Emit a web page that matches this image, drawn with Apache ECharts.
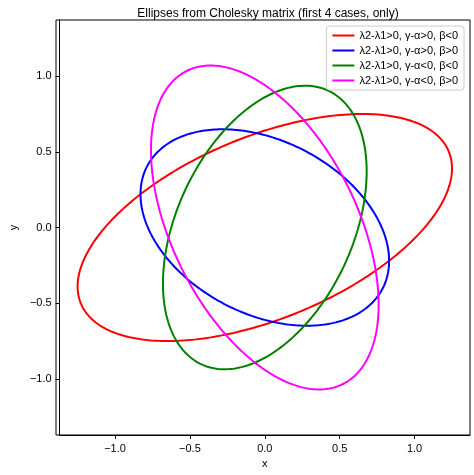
<!DOCTYPE html>
<html><head><meta charset="utf-8">
<script src="https://cdn.jsdelivr.net/npm/echarts@6/dist/echarts.min.js"></script>
<style>html,body{margin:0;padding:0;background:#fff}#c{width:474px;height:475px}</style>
</head><body><div id="c"></div>
<script>
// Cholesky factors L = [[l11,0],[l21,l22]] for each case
const names = ['λ2-λ1>0, γ-α>0, β<0','λ2-λ1>0, γ-α>0, β>0','λ2-λ1>0, γ-α<0, β<0','λ2-λ1>0, γ-α<0, β>0'];
const colors = ['#ff0000','#0000ff','#008000','#ff00ff'];
const l11 = [1.25, 0.83, 0.68, 0.76];
const l21 = [0.39, -0.22, 0.37, -0.51];
const l22 = [0.64, 0.61, 0.86, 0.94];
const tickVals = [-1.0, -0.5, 0.0, 0.5, 1.0];
const nPts = 300;
function ellipse(i){
  const pts=[];
  for(let k=0;k<=nPts;k++){const t=2*Math.PI*k/nPts;
    pts.push([l11[i]*Math.cos(t), l21[i]*Math.cos(t)+l22[i]*Math.sin(t)]);}
  return pts;
}
const chart = echarts.init(document.getElementById('c'));
function ax(name,gap){return {type:'value',min:-1.37,max:1.37,name:name,nameGap:gap,
  axisLine:{onZero:false,show:true,lineStyle:{color:'#000'}},
  axisTick:{show:true,length:4,customValues:tickVals,lineStyle:{color:'#000'}},
  splitLine:{show:false},nameLocation:'middle',nameTextStyle:{color:'#000',fontSize:11},
  axisLabel:{color:'#000',fontSize:11,customValues:tickVals,
    formatter:v=>v.toFixed(1).replace('-','−')}};}
chart.setOption({
  animation:false,
  title:{text:'Ellipses from Cholesky matrix (first 4 cases, only)',left:263,textAlign:'center',top:3,textStyle:{fontSize:12,fontWeight:'normal',color:'#000'}},
  grid:{left:56,right:4,top:20,bottom:40},
  legend:{top:26,right:10,orient:'vertical',itemWidth:22,itemHeight:2,itemGap:4,
    backgroundColor:'#fff',borderColor:'#ccc',borderWidth:1,borderRadius:3,padding:[4,6],
    textStyle:{fontSize:11,color:'#000'},icon:'rect',data:names},
  xAxis:ax('x',22),
  yAxis:ax('y',38),
  series:names.map((n,i)=>({name:n,type:'line',data:ellipse(i),showSymbol:false,smooth:false,
    lineStyle:{width:2,color:colors[i]},itemStyle:{color:colors[i]}})),
  graphic:[{type:'rect',shape:{x:56,y:20,width:414,height:415},style:{fill:'none',stroke:'#000',lineWidth:1},silent:true}]
});
</script></body></html>
